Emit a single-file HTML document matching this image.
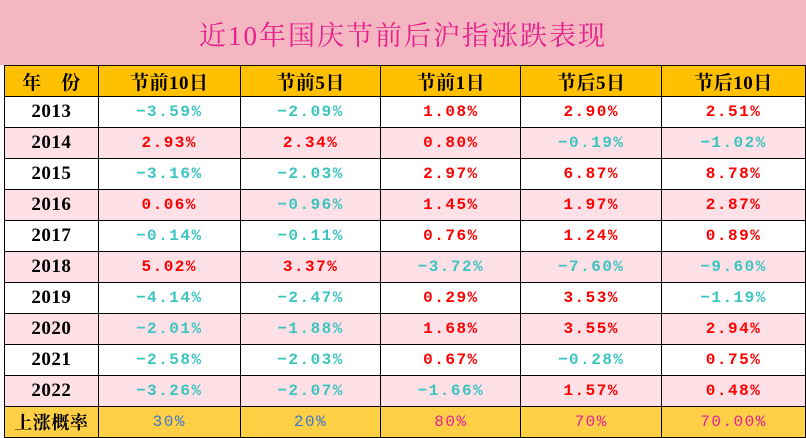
<!DOCTYPE html>
<html><head><meta charset="utf-8">
<style>
body{margin:0;width:806px;height:438px;overflow:hidden;background:#fff;font-family:"Liberation Mono","Noto Serif CJK SC",monospace;}
#title{position:absolute;left:0;top:0;width:806px;height:65px;background:#f4b6c0;color:#e6208c;font:27px "Liberation Serif","Noto Serif CJK SC",serif;text-align:center;line-height:72px;letter-spacing:2px;}
table{position:absolute;left:4px;top:65px;border-collapse:collapse;table-layout:fixed;}
td{border:1.5px solid #000;height:30px;padding:0;text-align:center;font-size:16px;font-weight:bold;letter-spacing:1.5px;}
tr.h td{background:#ffc000;color:#000;font-family:"Liberation Serif","Noto Serif CJK SC",serif;font-size:19px;height:30px;letter-spacing:0.5px;}
tr.odd td{background:#fff;}
tr.even td{background:#ffe0e6;}
tr.f td{background:#ffd045;height:30px;}
td.y{color:#000;font-family:"Liberation Serif",serif;font-size:19px;letter-spacing:0.5px;}
.up{color:#ff0000;}
.dn{color:#3cc4c0;}
</style></head><body>
<div id="title">近10年国庆节前后沪指涨跌表现</div>
<table id="t">
<colgroup><col style="width:94px"><col style="width:142px"><col style="width:141px"><col style="width:140px"><col style="width:141px"><col style="width:144px"></colgroup>
<tbody id="tb"></tbody>
</table>
<script>
const headers=["年　份","节前10日","节前5日","节前1日","节后5日","节后10日"];
const years=["2013","2014","2015","2016","2017","2018","2019","2020","2021","2022"];
const pre10=["-3.59","2.93","-3.16","0.06","-0.14","5.02","-4.14","-2.01","-2.58","-3.26"];
const pre5=["-2.09","2.34","-2.03","-0.96","-0.11","3.37","-2.47","-1.88","-2.03","-2.07"];
const pre1=["1.08","0.80","2.97","1.45","0.76","-3.72","0.29","1.68","0.67","-1.66"];
const post5=["2.90","-0.19","6.87","1.97","1.24","-7.60","3.53","3.55","-0.28","1.57"];
const post10=["2.51","-1.02","8.78","2.87","0.89","-9.60","-1.19","2.94","0.75","0.48"];
const footLabel="上涨概率";
const footVals=["30%","20%","80%","70%","70.00%"];
const footColors=["#3a78c8","#3a78c8","#e6209a","#e6209a","#e6209a"];
const tb=document.getElementById('tb');
const hr=document.createElement('tr');hr.className='h';


headers.forEach(h=>{const td=document.createElement('td');td.textContent=h;


hr.appendChild(td);});
tb.appendChild(hr);
const cols=[pre10,pre5,pre1,post5,post10];
years.forEach((y,i)=>{
 const tr=document.createElement('tr');tr.className=i%2?'even':'odd';
 
 
 const yt=document.createElement('td');yt.className='y';yt.textContent=y;
 
 
 tr.appendChild(yt);
 cols.forEach(c=>{const v=c[i];const td=document.createElement('td');
  const n=parseFloat(v);td.className=n<0?'dn':'up';
  td.textContent=(n<0?'−'+v.slice(1):v)+'%';
  
  
  tr.appendChild(td);});
 tb.appendChild(tr);
});
const fr=document.createElement('tr');fr.className='f';


const fl=document.createElement('td');fl.textContent=footLabel;fl.style.fontFamily='"Liberation Serif","Noto Serif CJK SC",serif';fl.style.fontSize='18px';fl.style.letterSpacing='0.5px';


fr.appendChild(fl);
footVals.forEach((v,i)=>{const td=document.createElement('td');td.textContent=v;td.style.color=footColors[i];td.style.fontWeight='normal';


fr.appendChild(td);});
tb.appendChild(fr);
</script>
</body></html>
